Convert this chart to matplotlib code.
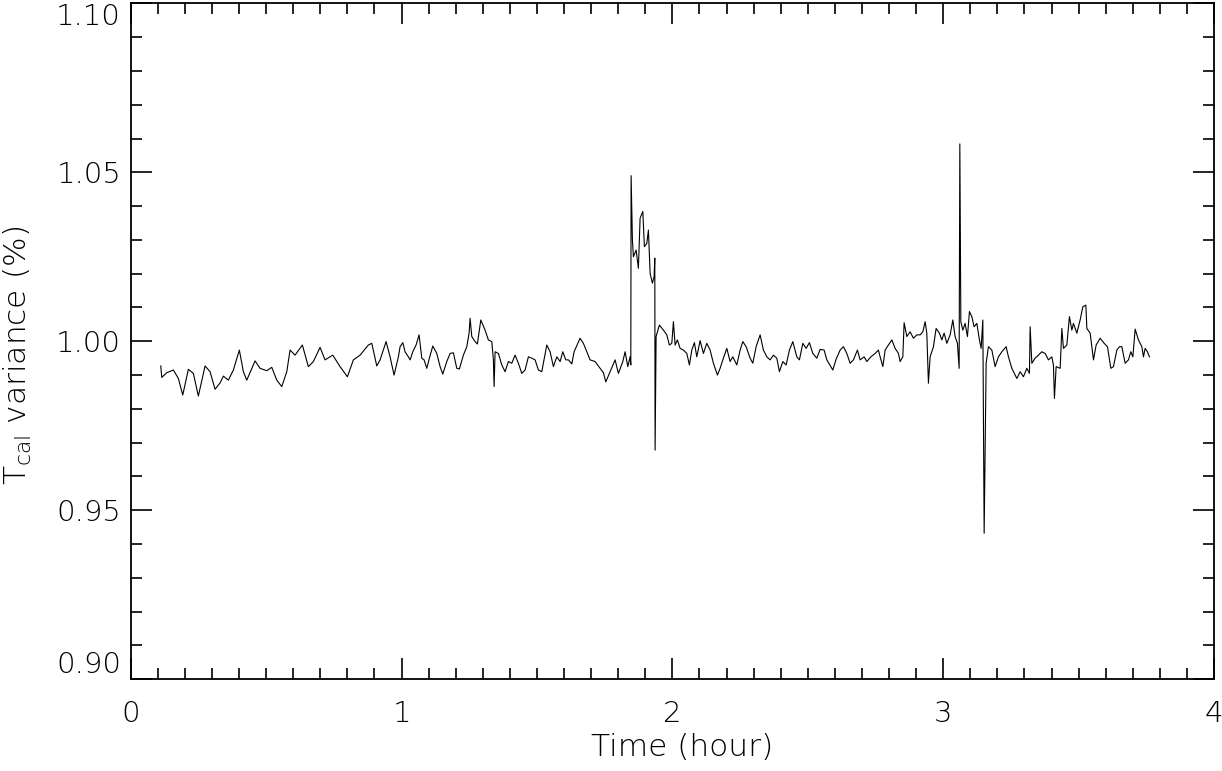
import numpy as np
import matplotlib
matplotlib.use("Agg")
import matplotlib.pyplot as plt
from matplotlib.ticker import MultipleLocator, FormatStrFormatter

time_hr = [
    0.1108, 0.1145, 0.1329, 0.1573, 0.1758, 0.1920, 0.2127, 0.2312, 0.2496, 0.2744,
    0.2928, 0.3113, 0.3298, 0.3420, 0.3604, 0.3789, 0.4010, 0.4158, 0.4284, 0.4590,
    0.4775, 0.5022, 0.5207, 0.5391, 0.5576, 0.5761, 0.5883, 0.6067, 0.6337, 0.6558,
    0.6743, 0.6990, 0.7175, 0.7459, 0.7729, 0.7999, 0.8220, 0.8468, 0.8774, 0.8900,
    0.9084, 0.9206, 0.9428, 0.9575, 0.9723, 0.9882,
    0.9945, 1.0044, 1.0129, 1.0251, 1.0314, 1.0414, 1.0535, 1.0646, 1.0746, 1.0831,
    1.0931, 1.1027, 1.1152, 1.1300, 1.1422, 1.1521, 1.1669, 1.1791, 1.1913, 1.2038,
    1.2134, 1.2282, 1.2408, 1.2493, 1.2530, 1.2592, 1.2714, 1.2799, 1.2925, 1.3083,
    1.3205, 1.3331, 1.3390, 1.3416, 1.3453, 1.3575, 1.3700, 1.3822, 1.3944, 1.4069,
    1.4191, 1.4313, 1.4439, 1.4561, 1.4682, 1.4808, 1.4930, 1.5052, 1.5177, 1.5362,
    1.5484, 1.5606, 1.5731, 1.5853, 1.5953, 1.6064, 1.6160, 1.6285, 1.6370, 1.6591,
    1.6713, 1.6839, 1.6961, 1.7145, 1.7330, 1.7452, 1.7541, 1.7699, 1.7884, 1.8006,
    1.8168, 1.8253, 1.8353, 1.8438, 1.8464,
    1.8475, 1.8523, 1.8560, 1.8660, 1.8744, 1.8807, 1.8907, 1.8966, 1.9055, 1.9114,
    1.9177, 1.9261, 1.9324, 1.9350, 1.9361, 1.9398, 1.9520,
    1.9668, 1.9793, 1.9889, 1.9978, 2.0037, 2.0100, 2.0185, 2.0284, 2.0406, 2.0532,
    2.0628, 2.0716, 2.0812, 2.0901, 2.1023, 2.1145, 2.1270, 2.1392, 2.1514, 2.1662,
    2.1761, 2.1883, 2.2009, 2.2131, 2.2230, 2.2378, 2.2500, 2.2600, 2.2722, 2.2869,
    2.2969, 2.3091, 2.3239, 2.3360, 2.3486, 2.3608, 2.3730, 2.3855, 2.3951, 2.4077,
    2.4199, 2.4321, 2.4446, 2.4594, 2.4690, 2.4815, 2.4937, 2.5059, 2.5185, 2.5332,
    2.5454, 2.5602, 2.5702, 2.5923, 2.6045, 2.6193, 2.6315, 2.6440, 2.6562, 2.6684,
    2.6832, 2.6931, 2.7079, 2.7179, 2.7326, 2.7485, 2.7607,
    2.7670, 2.7770, 2.7855, 2.7976, 2.8102, 2.8224, 2.8346, 2.8408, 2.8508, 2.8556,
    2.8656, 2.8778, 2.8900, 2.9025, 2.9147, 2.9247, 2.9332, 2.9394, 2.9453, 2.9516,
    2.9638, 2.9738, 2.9860, 2.9948, 3.0033, 3.0133, 3.0255, 3.0355, 3.0439, 3.0524,
    3.0587, 3.0613, 3.0650, 3.0724, 3.0808, 3.0894, 3.0968, 3.1056, 3.1141, 3.1241,
    3.1337, 3.1400, 3.1462, 3.1511, 3.1584, 3.1669, 3.1795, 3.1916, 3.2038, 3.2164,
    3.2323, 3.2408, 3.2533, 3.2718, 3.2840, 3.2962, 3.3087, 3.3183, 3.3209, 3.3272,
    3.3394, 3.3515, 3.3641, 3.3763, 3.3885, 3.4010, 3.4069, 3.4106, 3.4169, 3.4317,
    3.4380, 3.4439, 3.4564, 3.4660, 3.4749, 3.4808, 3.4934, 3.5055, 3.5155, 3.5266,
    3.5303, 3.5425, 3.5547, 3.5646, 3.5794, 3.5942, 3.6064, 3.6189, 3.6285, 3.6411,
    3.6507, 3.6595, 3.6717, 3.6839, 3.6928, 3.7001, 3.7087, 3.7208, 3.7334, 3.7393,
    3.7456, 3.7540, 3.7614,
]
tcal_var = [
    0.9927, 0.9893, 0.9907, 0.9915, 0.9890, 0.9841, 0.9917, 0.9905, 0.9838, 0.9927,
    0.9910, 0.9858, 0.9877, 0.9897, 0.9885, 0.9915, 0.9974, 0.9910, 0.9885, 0.9942,
    0.9920, 0.9913, 0.9923, 0.9885, 0.9866, 0.9910, 0.9974, 0.9959, 0.9989, 0.9925,
    0.9940, 0.9982, 0.9945, 0.9959, 0.9925, 0.9895, 0.9945, 0.9959, 0.9989, 0.9994,
    0.9927, 0.9945, 0.9999, 0.9954, 0.9900, 0.9954,
    0.9984, 0.9996, 0.9969, 0.9954, 0.9945, 0.9969, 0.9989, 1.0019, 0.9950, 0.9945,
    0.9920, 0.9950, 0.9986, 0.9964, 0.9925, 0.9903, 0.9940, 0.9964, 0.9966, 0.9920,
    0.9918, 0.9959, 0.9984, 1.0024, 1.0068, 1.0014, 0.9999, 0.9992, 1.0063, 1.0033,
    1.0004, 0.9999, 0.9945, 0.9866, 0.9969, 0.9964, 0.9930, 0.9910, 0.9940, 0.9935,
    0.9959, 0.9935, 0.9905, 0.9915, 0.9954, 0.9950, 0.9945, 0.9915, 0.9910, 0.9989,
    0.9969, 0.9925, 0.9954, 0.9940, 0.9969, 0.9945, 0.9945, 0.9933, 0.9969, 1.0009,
    0.9994, 0.9969, 0.9945, 0.9940, 0.9920, 0.9907, 0.9880, 0.9910, 0.9945, 0.9905,
    0.9940, 0.9969, 0.9925, 0.9954, 0.9930,
    1.0490, 1.0300, 1.0250, 1.0270, 1.0216, 1.0364, 1.0384, 1.0280, 1.0290, 1.0329,
    1.0201, 1.0172, 1.0191, 1.0246, 0.9678, 1.0014, 1.0048,
    1.0033, 1.0019, 0.9989, 0.9994, 1.0058, 0.9989, 1.0004, 0.9979, 0.9974, 0.9964,
    0.9930, 0.9974, 0.9996, 0.9954, 1.0002, 0.9964, 0.9994, 0.9974, 0.9935, 0.9900,
    0.9920, 0.9950, 0.9979, 0.9940, 0.9954, 0.9930, 0.9974, 0.9999, 0.9984, 0.9950,
    0.9935, 0.9984, 1.0019, 0.9974, 0.9954, 0.9945, 0.9959, 0.9950, 0.9910, 0.9940,
    0.9930, 0.9974, 0.9999, 0.9954, 0.9945, 0.9994, 0.9979, 0.9996, 0.9964, 0.9950,
    0.9976, 0.9974, 0.9945, 0.9915, 0.9947, 0.9974, 0.9984, 0.9964, 0.9935, 0.9945,
    0.9974, 0.9945, 0.9954, 0.9940, 0.9954, 0.9964, 0.9974,
    0.9954, 0.9925, 0.9974, 0.9989, 1.0004, 0.9979, 0.9964, 0.9940, 0.9954, 1.0055,
    1.0014, 1.0028, 1.0009, 1.0019, 1.0019, 1.0028, 1.0058, 1.0024, 0.9876, 0.9954,
    0.9984, 1.0038, 1.0024, 1.0004, 1.0024, 0.9994, 1.0019, 1.0063, 1.0014, 0.9994,
    0.9920, 1.0584, 1.0058, 1.0033, 1.0053, 1.0014, 1.0088, 1.0073, 1.0043, 1.0053,
    1.0004, 0.9979, 1.0063, 0.9432, 0.9935, 0.9984, 0.9974, 0.9925, 0.9954, 0.9969,
    0.9984, 0.9954, 0.9920, 0.9890, 0.9910, 0.9895, 0.9920, 0.9905, 1.0043, 0.9935,
    0.9950, 0.9959, 0.9969, 0.9964, 0.9945, 0.9954, 0.9930, 0.9831, 0.9925, 0.9920,
    1.0038, 0.9979, 0.9989, 1.0073, 1.0033, 1.0053, 1.0024, 1.0063, 1.0102, 1.0107,
    1.0038, 1.0024, 0.9945, 0.9989, 1.0009, 0.9994, 0.9984, 0.9920, 0.9925, 0.9974,
    0.9984, 0.9984, 0.9935, 0.9945, 0.9969, 0.9954, 1.0036, 1.0004, 0.9984, 0.9954,
    0.9979, 0.9969, 0.9954,
]

x_major = [0, 1, 2, 3, 4]
y_major = [0.90, 0.95, 1.00, 1.05, 1.10]

plt.rcParams['font.family'] = ['DejaVu Sans']
plt.rcParams['font.weight'] = 'light'
plt.rcParams['axes.labelweight'] = 'light'
plt.rcParams['mathtext.default'] = 'regular'

fig = plt.figure(figsize=(12.22, 7.71), dpi=100)
ax = fig.add_axes([0.107, 0.119, 0.8865, 0.8767])

ax.plot(time_hr, tcal_var, color='black', linewidth=0.8)

ax.set_xlim(0, 4)
ax.set_ylim(0.90, 1.10)
ax.set_xticks(x_major)
ax.set_yticks(y_major)
ax.xaxis.set_minor_locator(MultipleLocator(0.1))
ax.yaxis.set_minor_locator(MultipleLocator(0.01))
ax.yaxis.set_major_formatter(FormatStrFormatter('%.2f'))

ax.tick_params(which='both', direction='in', top=True, right=True,
               width=1.2, labelsize=21, colors='black')
ax.tick_params(which='major', length=15)
ax.tick_params(which='minor', length=8)
ax.tick_params(axis='x', which='major', pad=15)
ax.tick_params(axis='y', which='major', pad=7)
for sp in ax.spines.values():
    sp.set_linewidth(1.3)

# IDL style: end labels on the y axis sit inside the box
ylabels = ax.get_yticklabels()
ylabels[0].set_va('bottom')
ylabels[-1].set_va('top')

ax.set_xlabel('Time (hour)', fontsize=22.5, fontweight='light')
ax.xaxis.set_label_coords(0.509, -0.08)
fig.text(0.015, 1 - 355 / 771, r'T$_{cal}$ variance (%)', fontsize=22.5,
         fontweight='light', rotation=90, ha='center', va='center')

fig.savefig('out.png', dpi=100)
